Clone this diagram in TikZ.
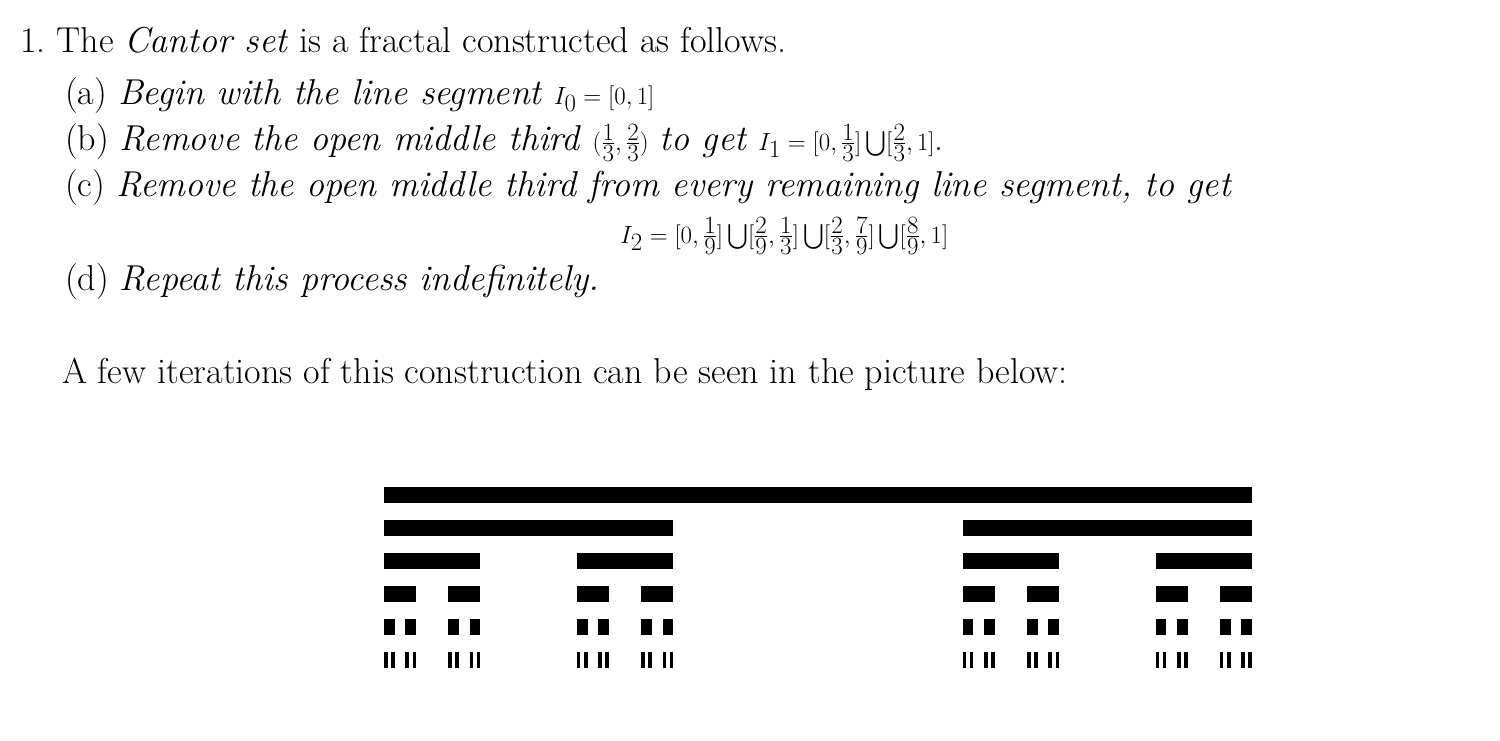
\documentclass[tikz,border=0pt]{standalone}
\usepackage{amsmath}
\newcommand\cantorseg[3]{%
  \begingroup
  \pgfmathsetmacro\cy{487+33*#3}%
  \fill (#1pt,-\cy pt) rectangle ++(#2pt,-16pt);
  \ifnum#3<5
    \pgfmathsetmacro\nw{#2/3}%
    \pgfmathsetmacro\nx{#1+2*#2/3}%
    \pgfmathtruncatemacro\nl{#3+1}%
    \edef\tmpa{\noexpand\cantorseg{#1}{\nw}{\nl}\noexpand\cantorseg{\nx}{\nw}{\nl}}%
    \tmpa
  \fi
  \endgroup}
\begin{document}
\begin{tikzpicture}[x=1pt,y=1pt,scale=1,
  txt/.style={anchor=base west,inner sep=0pt,font=\fontsize{36}{42}\selectfont}]
\useasboundingbox (0,0) rectangle (1500,-740);
\node[txt] (l1) at (20,-52) {1.\ The \textit{Cantor set} is a fractal constructed as follows.};
\node[txt] (la) at (65,-104) {(a)\ \textit{Begin with the line segment} $I_0=[0,1]$};
\node[txt] (lb) at (65,-150) {(b)\ \textit{Remove the open middle third} $(\tfrac13,\tfrac23)$ \textit{to get} $I_1=[0,\tfrac13]\bigcup[\tfrac23,1]$.};
\node[txt] (lc) at (65,-196) {(c)\ \textit{Remove the open middle third from every remaining line segment, to get}};
\node[txt] (le) at (620,-243) {$I_2=[0,\tfrac19]\bigcup[\tfrac29,\tfrac13]\bigcup[\tfrac23,\tfrac79]\bigcup[\tfrac89,1]$};
\node[txt] (ld) at (65,-290) {(d)\ \textit{Repeat this process indefinitely.}};
\node[txt] (lf) at (62,-383) {A few iterations of this construction can be seen in the picture below:};
\cantorseg{384}{868}{0}
\end{tikzpicture}
\end{document}
